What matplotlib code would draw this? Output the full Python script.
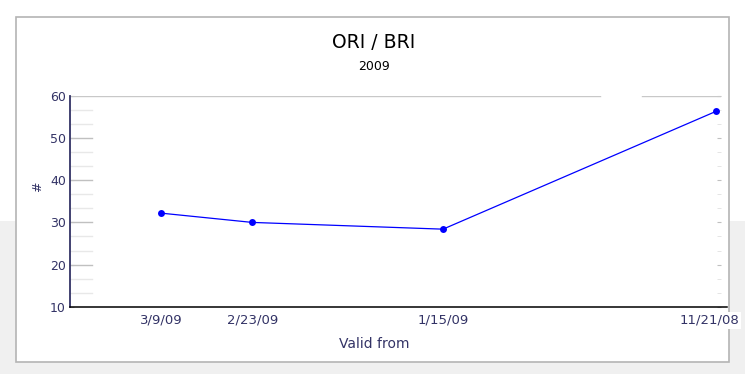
import matplotlib
matplotlib.use("Agg")
import matplotlib.pyplot as plt
import matplotlib.transforms as mtransforms
from matplotlib.patches import Rectangle

# ---- data ----
date_labels = ["3/9/09", "2/23/09", "1/15/09", "11/21/08"]
x_positions = [0.140, 0.280, 0.573, 0.993]   # relative position along the axis
values = [32.2, 30.0, 28.4, 56.4]
y_major = [10, 20, 30, 40, 50, 60]
title = "ORI / BRI"
subtitle = "2009"
x_title = "Valid from"
y_title = "#"

W, H = 745, 374
NAVY = "#333366"

fig = plt.figure(figsize=(W / 100, H / 100), dpi=100)
fig.patch.set_facecolor("white")

def fx(px):
    return px / W

def fy(py):
    return 1 - py / H

# gray page background below y=221
fig.add_artist(Rectangle((0, 0), 1, fy(221), transform=fig.transFigure,
                         facecolor="#f0f0f0", edgecolor="none", zorder=-20))
# white chart box with border
fig.add_artist(Rectangle((fx(16), fy(362)), fx(729 - 16), (362 - 17) / H,
                         transform=fig.transFigure, facecolor="white",
                         edgecolor="#b4b4b4", linewidth=1.2, zorder=-10))

# axes area
left, right, top, bottom = 70, 721, 96, 306.7
ax = fig.add_axes([fx(left), fy(bottom), fx(right - left), (bottom - top) / H])
ax.patch.set_alpha(0)

ax.plot(x_positions, values, color="#0000ff", linewidth=0.9,
        marker="o", markersize=5, markeredgewidth=0, zorder=5, clip_on=False)

ax.set_xlim(0, 1)
ax.set_ylim(10, 60)

# spines
for s in ["top", "right"]:
    ax.spines[s].set_visible(False)
ax.spines["left"].set_color(NAVY)
ax.spines["left"].set_linewidth(1.3)
ax.spines["bottom"].set_visible(False)
ax.plot([0, (727 - left) / (right - left)], [10, 10], color="black",
        linewidth=1.1, clip_on=False, transform=ax.transData, zorder=6)

# top line with gap
ax.axhline(60, xmin=0, xmax=(600 - left) / (right - left), color="#c8c8c8", linewidth=1)
ax.axhline(60, xmin=(642 - left) / (right - left), xmax=1, color="#c8c8c8", linewidth=1)

# y ticks
ax.set_yticks(y_major)
ax.set_yticklabels([str(v) for v in y_major])
minor = []
for v in y_major[:-1]:
    minor += [v + 10 / 3, v + 20 / 3]
ax.set_yticks(minor, minor=True)
ax.tick_params(axis="y", which="major", direction="in", length=3, left=True,
               right=True, color="#c0c0c0", labelcolor=NAVY, labelsize=9, pad=3)
ax.tick_params(axis="y", which="minor", direction="in", length=3, left=True,
               right=True, color="#e0e0e0")
# long inner tick lines on the left
tick_frac = 22 / (right - left)
for v in y_major[1:-1]:
    ax.axhline(v, xmin=0, xmax=tick_frac, color="#c0c0c0", linewidth=1)
for v in minor:
    ax.axhline(v, xmin=0, xmax=tick_frac, color="#e8e8e8", linewidth=1)

# x ticks
ax.set_xticks(x_positions)
ax.set_xticklabels(date_labels)
ax.tick_params(axis="x", length=0, labelcolor=NAVY, labelsize=9.5, pad=5)
labs = ax.get_xticklabels()
last = labs[-1]
last.set_transform(last.get_transform() + mtransforms.ScaledTranslation(-7 / 100, 0, fig.dpi_scale_trans))
last.set_bbox(dict(facecolor="white", edgecolor="none", pad=1.5))

for t in ax.get_yticklabels() + labs:
    t.set_family("DejaVu Sans")

# titles
fig.text(fx(374), fy(43), title, ha="center", va="center", fontsize=13.5, color="black")
fig.text(fx(374), fy(66), subtitle, ha="center", va="center", fontsize=9, color="black")
fig.text(fx(374), fy(344), x_title, ha="center", va="center", fontsize=10, color=NAVY)
fig.text(fx(38), fy(187), y_title, ha="center", va="center", fontsize=9, color=NAVY, rotation=90)

fig.savefig("out.png", dpi=100)
